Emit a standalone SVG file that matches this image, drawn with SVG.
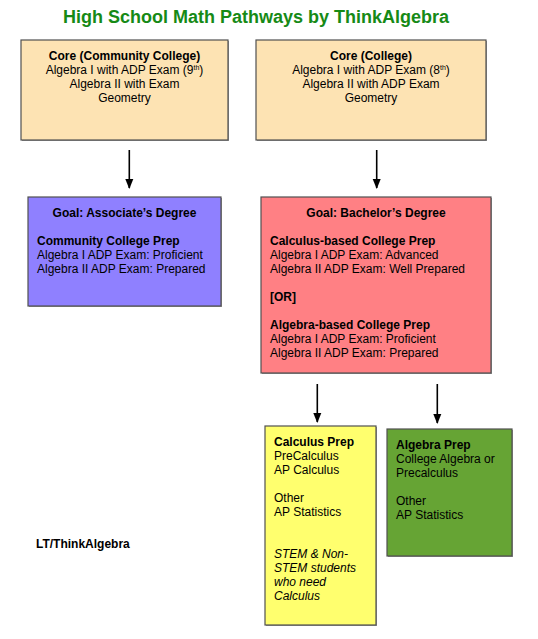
<svg xmlns="http://www.w3.org/2000/svg" width="538" height="639" viewBox="0 0 538 639">
<style>
text{font-family:"Liberation Sans",Arial,sans-serif;font-size:12px;fill:#000}
.b{font-weight:bold}
.c{text-anchor:middle}
.i{font-style:italic}
.box{stroke:#505050;stroke-width:1.2}
.sh{fill:#9a9a9a}
.title{font-size:18px;font-weight:bold;fill:#168A16}
.conn{stroke:#000;stroke-width:1.6;fill:none}
</style>
<defs>
<marker id="ah" markerUnits="userSpaceOnUse" markerWidth="10" markerHeight="10" viewBox="0 0 10 10" refX="9" refY="5" orient="auto">
<path d="M0,1 L10,5 L0,9 Z" fill="#000"/>
</marker>
</defs>
<rect width="538" height="639" fill="#fff"/>
<text class="title c" x="256" y="23">High School Math Pathways by ThinkAlgebra</text>

<g id="core-cc">
<rect class="sh" x="22" y="41" width="207" height="100"/>
<rect class="box" x="21" y="40" width="207" height="100" fill="#FDE3B3"/>
<text class="c b" x="124.5" y="60">Core (Community College)</text>
<text class="c" x="124.5" y="74">Algebra I with ADP Exam (9<tspan font-size="7" dy="-4">th</tspan><tspan dy="4">)</tspan></text>
<text class="c" x="124.5" y="88">Algebra II with Exam</text>
<text class="c" x="124.5" y="102">Geometry</text>
</g>

<g id="core-college">
<rect class="sh" x="257" y="41" width="230" height="100"/>
<rect class="box" x="256" y="40" width="230" height="100" fill="#FDE3B3"/>
<text class="c b" x="371" y="60">Core (College)</text>
<text class="c" x="371" y="74">Algebra I with ADP Exam (8<tspan font-size="7" dy="-4">th</tspan><tspan dy="4">)</tspan></text>
<text class="c" x="371" y="88">Algebra II with ADP Exam</text>
<text class="c" x="371" y="102">Geometry</text>
</g>

<g id="goal-associate">
<rect class="sh" x="29" y="198" width="193" height="109"/>
<rect class="box" x="28" y="197" width="193" height="109" fill="#8F80FF"/>
<text class="c b" x="124.5" y="217">Goal: Associate’s Degree</text>
<text class="b" x="37" y="245">Community College Prep</text>
<text x="37" y="259">Algebra I ADP Exam: Proficient</text>
<text x="37" y="273">Algebra II ADP Exam: Prepared</text>
</g>

<g id="goal-bachelor">
<rect class="sh" x="262" y="198" width="230" height="176"/>
<rect class="box" x="261" y="197" width="230" height="176" fill="#FF8084"/>
<text class="c b" x="376" y="217">Goal: Bachelor’s Degree</text>
<text class="b" x="270" y="245">Calculus-based College Prep</text>
<text x="270" y="259">Algebra I ADP Exam: Advanced</text>
<text x="270" y="273">Algebra II ADP Exam: Well Prepared</text>
<text class="b" x="270" y="301">[OR]</text>
<text class="b" x="270" y="329">Algebra-based College Prep</text>
<text x="270" y="343">Algebra I ADP Exam: Proficient</text>
<text x="270" y="357">Algebra II ADP Exam: Prepared</text>
</g>

<g id="calculus-prep">
<rect class="sh" x="266" y="427" width="111" height="199"/>
<rect class="box" x="265" y="426" width="111" height="199" fill="#FFFF6E"/>
<text class="b" x="274" y="446">Calculus Prep</text>
<text x="274" y="460">PreCalculus</text>
<text x="274" y="474">AP Calculus</text>
<text x="274" y="502">Other</text>
<text x="274" y="516">AP Statistics</text>
<text class="i" x="274" y="558">STEM &amp; Non-</text>
<text class="i" x="274" y="572">STEM students</text>
<text class="i" x="274" y="586">who need</text>
<text class="i" x="274" y="600">Calculus</text>
</g>

<g id="algebra-prep">
<rect class="sh" x="388" y="430" width="125" height="127"/>
<rect class="box" x="387" y="429" width="125" height="127" fill="#66A434"/>
<text class="b" x="396" y="449">Algebra Prep</text>
<text x="396" y="463">College Algebra or</text>
<text x="396" y="477">Precalculus</text>
<text x="396" y="505">Other</text>
<text x="396" y="519">AP Statistics</text>
</g>

<g id="credit">
<text class="b" x="36" y="548">LT/ThinkAlgebra</text>
</g>

<g id="connectors">
<line class="conn" x1="129.3" y1="150" x2="129.3" y2="188" marker-end="url(#ah)"/>
<line class="conn" x1="376.7" y1="150" x2="376.7" y2="188" marker-end="url(#ah)"/>
<line class="conn" x1="317.3" y1="384" x2="317.3" y2="422" marker-end="url(#ah)"/>
<line class="conn" x1="437.3" y1="384" x2="437.3" y2="423" marker-end="url(#ah)"/>
</g>
</svg>
